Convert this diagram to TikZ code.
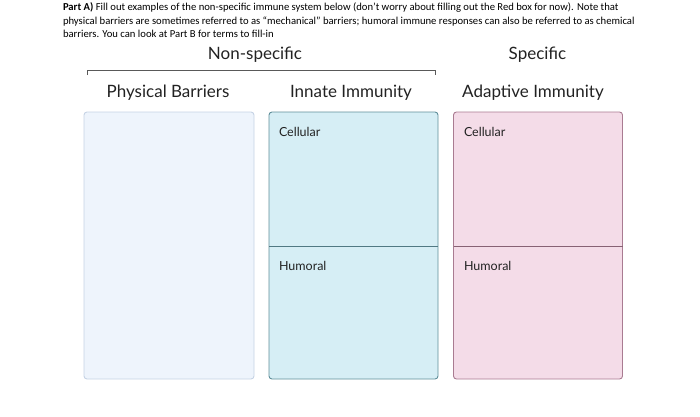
\documentclass[tikz,border=0pt]{standalone}
\usepackage{fontspec}
\setmainfont{Carlito}
\newfontfamily\headfont{Lato}
\definecolor{physfill}{HTML}{EEF4FC}
\definecolor{physdraw}{HTML}{C6D3E5}
\definecolor{innfill}{HTML}{D6EEF5}
\definecolor{inndraw}{HTML}{5F8E9A}
\definecolor{adafill}{HTML}{F4DCE8}
\definecolor{adadraw}{HTML}{A97B91}
\definecolor{headtext}{HTML}{222222}
\tikzset{
    every node/.style={inner sep=0pt, outer sep=0pt},
    parline/.style={anchor=base west, font=\fontsize{10.65}{12}\selectfont},
    heading/.style={font=\headfont\fontsize{17}{20}\selectfont, text=headtext},
    sublabel/.style={anchor=west, font=\headfont\fontsize{12.5}{15}\selectfont, text=headtext},
    column/.style={rectangle, rounded corners=3pt, line width=0.9pt,
        minimum height=267pt}
}
\begin{document}
\begin{tikzpicture}[x=1pt,y=-1pt]
	\useasboundingbox (0,0) rectangle (700,416);
	% instructions
	\node (l1) [parline] at (63,10.5) {\textbf{Part A)} Fill out examples of the non-specific immune system below (don’t worry about filling out the Red box for now). Note that};
	\node (l2) [parline] at (63,24) {physical barriers are sometimes referred to as “mechanical” barriers; humoral immune responses can also be referred to as chemical};
	\node (l3) [parline] at (63,37.5) {barriers. You can look at Part B for terms to fill-in};

	\node (ns) [heading] at (255,55) {Non-specific};
	\node (sp) [heading] at (537.5,55) {Specific};
	\draw [line width=0.8pt, color=black!65] (87,75) -- (87,70) -- (435,70) -- (435,75);

	\node (ph) [heading] at (168,93) {Physical Barriers};
	\node (in) [heading] at (351,93) {Innate Immunity};
	\node (ad) [heading] at (533,93) {Adaptive Immunity};

	% columns
	\node (1) [column, fill=physfill, draw=physdraw, minimum width=170pt] at (169,245.5) {};
	\node (2) [column, fill=innfill, draw=inndraw, minimum width=169pt] at (353.5,245.5) {};
	\node (3) [column, fill=adafill, draw=adadraw, minimum width=169pt] at (538,245.5) {};

	\draw [line width=0.9pt, color=inndraw!85!black] (2.west |- 0,246) -- (2.east |- 0,246);
	\draw [line width=0.9pt, color=adadraw!80!black] (3.west |- 0,246) -- (3.east |- 0,246);

	\node (c2) [sublabel] at (279,132) {Cellular};
	\node (h2) [sublabel] at (279,266) {Humoral};
	\node (c3) [sublabel] at (464,132) {Cellular};
	\node (h3) [sublabel] at (464,266) {Humoral};
\end{tikzpicture}
\end{document}
